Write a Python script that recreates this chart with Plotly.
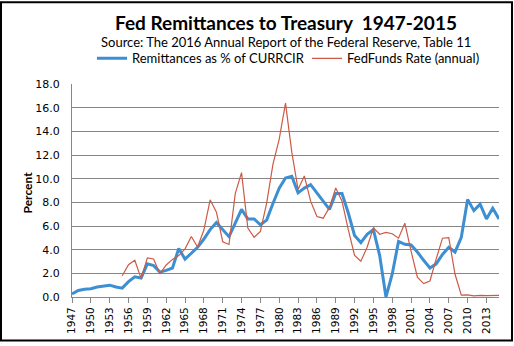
import plotly.graph_objects as go

years = list(range(1947, 2016))

remit_pct = [0.25, 0.55, 0.65, 0.7, 0.85, 0.95, 1.0, 0.85, 0.75, 1.3,
             1.7, 1.6, 2.8, 2.65, 2.1, 2.25, 2.45, 4.1, 3.2, 3.7,
             4.2, 4.9, 5.7, 6.3, 5.7, 5.1, 6.25, 7.4, 6.6, 6.6,
             6.1, 6.5, 7.9, 9.2, 10.05, 10.2, 8.8, 9.2, 9.5, 8.8,
             8.15, 7.4, 8.75, 8.75, 7.1, 5.2, 4.6, 5.3, 5.7, 3.5,
             0.0, 1.95, 4.7, 4.45, 4.4, 3.8, 3.1, 2.45, 2.8, 3.6,
             4.2, 3.8, 5.05, 8.25, 7.3, 7.85, 6.6, 7.5, 6.6]

fed_years = list(range(1955, 2016))
fedfunds = [1.79, 2.73, 3.11, 1.57, 3.31, 3.21, 1.95, 2.71, 3.18, 3.50,
            4.07, 5.11, 4.22, 5.66, 8.21, 7.17, 4.67, 4.44, 8.74, 10.51,
            5.82, 5.05, 5.54, 7.94, 11.20, 13.35, 16.39, 12.24, 9.09, 10.23,
            8.10, 6.80, 6.66, 7.57, 9.21, 8.10, 5.69, 3.52, 3.02, 4.20,
            5.84, 5.30, 5.46, 5.35, 4.97, 6.24, 3.88, 1.67, 1.13, 1.35,
            3.22, 4.97, 5.02, 1.92, 0.16, 0.18, 0.10, 0.14, 0.11, 0.09, 0.13]

tick_years = list(range(1947, 2016, 3))
y_ticks = [0, 2, 4, 6, 8, 10, 12, 14, 16, 18]

W, H = 514, 346
ML, MR, MT, MB = 72, 15, 84, 46
PW, PH = W - ML - MR, H - MT - MB

def px(x):
    return (x - ML) / PW

def py(y):
    return (H - MB - y) / PH

fig = go.Figure()
fig.add_trace(go.Scatter(x=years, y=remit_pct, mode="lines",
                         name="Remittances as % of CURRCIR", legend="legend",
                         line=dict(color="#3d8fd1", width=3)))
fig.add_trace(go.Scatter(x=fed_years, y=fedfunds, mode="lines",
                         name="FedFunds Rate (annual)", legend="legend2",
                         line=dict(color="#cd5a45", width=1.2)))

leg_font = dict(family="Lato", size=13, color="#000")
axis_font = dict(family="DejaVu Sans", size=11, color="#000000")
fig.update_layout(
    width=W, height=H,
    margin=dict(l=ML, r=MR, t=MT, b=MB),
    paper_bgcolor="white", plot_bgcolor="white",
    showlegend=True,
    legend=dict(orientation="h", x=px(92), y=py(58), xanchor="left", yanchor="middle",
                font=leg_font, itemwidth=30, bgcolor="rgba(0,0,0,0)"),
    legend2=dict(orientation="h", x=px(307), y=py(58), xanchor="left", yanchor="middle",
                 font=leg_font, itemwidth=30, bgcolor="rgba(0,0,0,0)"),
    xaxis=dict(range=[1947, 2015], tickmode="array", tickvals=tick_years,
               ticktext=[str(t) for t in tick_years], tickangle=-90,
               tickfont=dict(family="DejaVu Sans", size=10.5, color="#000"),
               showgrid=False, zeroline=False, showline=True, linecolor="#868686",
               linewidth=1, ticks="outside", ticklen=5, tickcolor="#868686"),
    yaxis=dict(range=[0, 18], tickmode="array", tickvals=y_ticks,
               tickformat=".1f", tickfont=axis_font,
               showgrid=True, gridcolor="#868686", gridwidth=1,
               zeroline=False, showline=True, linecolor="#868686", linewidth=1,
               ticks="", ticklabelstandoff=9),
    annotations=[
        dict(text="<b>Fed Remittances to Treasury  1947-2015</b>", x=px(286), y=py(22),
             xref="paper", yref="paper", showarrow=False, xanchor="center", yanchor="middle",
             font=dict(family="Lato", size=19, color="#000")),
        dict(text="Source: The 2016 Annual Report of the Federal Reserve, Table 11",
             x=px(286), y=py(41), xref="paper", yref="paper", showarrow=False,
             xanchor="center", yanchor="middle",
             font=dict(family="Lato", size=13, color="#000")),
        dict(text="<b>Percent</b>", x=px(27), y=py(194), xref="paper", yref="paper",
             showarrow=False, textangle=-90, xanchor="center", yanchor="middle",
             font=dict(family="Lato", size=12, color="#000")),
    ],
    shapes=[dict(type="rect", xref="paper", yref="paper",
                 x0=px(1), x1=px(512), y0=py(344), y1=py(1),
                 line=dict(color="#000", width=2), fillcolor="rgba(0,0,0,0)")],
)

fig.write_html("out.html")
